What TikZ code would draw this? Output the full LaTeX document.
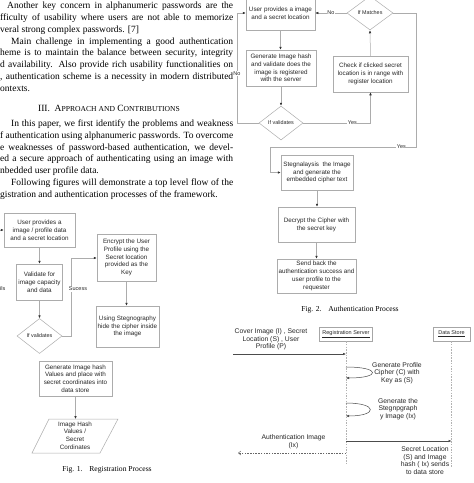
\documentclass[tikz,border=0pt]{standalone}
\usepackage{fontspec}
\setmainfont{Liberation Serif}
\newfontfamily\arialf{Liberation Sans}
\usetikzlibrary{arrows.meta,shapes.geometric}
\newcommand\smcap[1]{{\fontsize{7.6}{9}\selectfont #1}}
\begin{document}
\begin{tikzpicture}[x=1pt,y=-1pt,
  body/.style={anchor=base west,inner sep=0pt,font=\fontsize{9.5}{11.7}\selectfont},
  fbox/.style={draw=gray!65,line width=0.5pt,align=center,inner sep=0pt,font=\arialf\fontsize{6.3}{7.8}\selectfont,text=black!85},
  fdia/.style={diamond,aspect=1.3,draw=gray!65,line width=0.5pt,inner sep=0pt,font=\arialf\fontsize{5.4}{6.5}\selectfont,text=black!85},
  ftxt/.style={inner sep=0pt,font=\arialf\fontsize{6.3}{7.8}\selectfont,text=black!85,align=center},
  lbl/.style={fill=white,inner sep=0.6pt,font=\arialf\fontsize{5.5}{6.5}\selectfont,text=black!85},
  fl/.style={draw=gray!65,line width=0.5pt},
  arr/.style={fl,-{Latex[length=3pt,width=2.6pt,color=black!80]}},
  stxt/.style={inner sep=0pt,align=center,font=\arialf\fontsize{6.8}{7.7}\selectfont,text=black!85},
  sbox/.style={draw=gray!70,line width=0.5pt,inner sep=0pt,font=\arialf\fontsize{5.5}{6}\selectfont,text=black!85},
  life/.style={draw=gray!60,dash pattern=on 1.5pt off 1.2pt,line width=0.5pt},
  msg/.style={draw=black!70,line width=0.5pt,-{Latex[length=3pt,width=2.6pt]}},
  figcap/.style={anchor=base,inner sep=0pt,font=\fontsize{7.6}{9}\selectfont}
]
\useasboundingbox (0,0) rectangle (474,483);
\clip (0,0) rectangle (474,483);

% ---------- body text ----------
\node[body] (t0) at (7,8.7) {\makebox[226pt][s]{Another key concern in alphanumeric passwords are the}};
\node[body] (t1) at (0,20.5) {\makebox[233pt][s]{fficulty of usability where users are not able to memorize}};
\node[body] (t2) at (0,32.3) {veral strong complex passwords. [7]};
\node[body] (t3) at (11,44.1) {\makebox[222pt][s]{Main challenge in implementing a good authentication}};
\node[body] (t4) at (0,55.9) {\makebox[233pt][s]{heme is to maintain the balance between security, integrity}};
\node[body] (t5) at (0,67.7) {\makebox[233pt][s]{d availability. Also provide rich usability functionalities on}};
\node[body] (t6) at (0,79.5) {\makebox[233pt][s]{, authentication scheme is a necessity in modern distributed}};
\node[body] (t7) at (0,91.3) {ontexts.};
\node[anchor=base,inner sep=0pt,font=\fontsize{9.5}{11.7}\selectfont] (hd) at (109,111.5) {III.\hspace{0.5em}A\smcap{PPROACH AND} C\smcap{ONTRIBUTIONS}};
\node[body] (t8) at (11,126.5) {\makebox[222pt][s]{In this paper, we first identify the problems and weakness}};
\node[body] (t9) at (0,138.3) {\makebox[233pt][s]{f authentication using alphanumeric passwords. To overcome}};
\node[body] (t10) at (0,150.1) {\makebox[233pt][s]{e weaknesses of password-based authentication, we devel-}};
\node[body] (t11) at (0,161.9) {\makebox[233pt][s]{ed a secure approach of authenticating using an image with}};
\node[body] (t12) at (0,173.7) {nbedded user profile data.};
\node[body] (t13) at (11,185.5) {\makebox[222pt][s]{Following figures will demonstrate a top level flow of the}};
\node[body] (t14) at (0,197.3) {gistration and authentication processes of the framework.};

% ---------- Fig. 1 ----------
\node[fbox,minimum width=71pt,minimum height=34pt] (U1) at (39.5,230) {User provides a\\image / profile data\\and a secret location};
\node[fbox,minimum width=46pt,minimum height=36pt] (V) at (39.5,282) {Validate for\\image capacity\\and data};
\node[fdia,minimum width=45pt,minimum height=35pt] (D1) at (39.5,336) {If validates};
\node[fbox,minimum width=59pt,minimum height=47pt] (E) at (126.5,257.5) {Encrypt the User\\Profile using the\\Secret location\\provided as the\\Key};
\node[fbox,minimum width=63pt,minimum height=41pt] (S) at (127.5,326.5) {Using Stegnography\\hide the cipher inside\\the image};
\node[fbox,minimum width=73pt,minimum height=35pt] (G) at (75.5,378.5) {Generate Image hash\\Values and place with\\secret coordinates into\\data store};
\coordinate (pa) at (49,419);
\coordinate (pb) at (118,419);
\coordinate (pc) at (100,453);
\coordinate (pd) at (32,453);
\coordinate (Ptop) at (75.5,419);
\draw[fl] (pa) -- (pb) -- (pc) -- (pd) -- cycle;
\node[ftxt] (P) at (75,435.5) {Image Hash\\Values /\\Secret\\Cordinates};
\coordinate (fin) at (-6,230);
\node[lbl,anchor=west,inner sep=0pt] (fails) at (0,289) {ils};

\draw[arr] (fin) -- (U1.west);
\draw[arr] (U1.south) -- (V.north);
\draw[arr] (V.south) -- (D1.north);
\coordinate (sc1) at (71,336);
\coordinate (sc2) at (71,258);
\draw[arr] (D1.east) -- (sc1) -- (sc2) -- (sc2 -| E.west);
\node[lbl] (suc) at (78,289) {Sucess};
\draw[arr] (E.south) -- (E.south |- S.north);
\draw[arr] (G.south) -- (Ptop);
\node[figcap] (c1) at (107,471) {Fig. 1.\hspace{0.9em}Registration Process};

% ---------- Fig. 2 ----------
\node[fbox,minimum width=69pt,minimum height=34pt] (UA) at (280.5,13) {User provides a image\\and a secret location};
\node[fbox,minimum width=70pt,minimum height=36pt] (GA) at (281,68) {Generate Image hash\\and validate does the\\image is registered\\with the server};
\node[fdia,minimum width=44pt,minimum height=34pt] (D2) at (281,123) {If validates};
\node[fbox,minimum width=75pt,minimum height=36pt] (CK) at (370.5,74) {Check if clicked secret\\location is in range with\\register location};
\node[fdia,minimum width=46pt,minimum height=34pt] (DM) at (370,13) {If Matches};
\node[fbox,minimum width=72pt,minimum height=35pt] (SA) at (317,172.5) {Stegnalaysis\ \ the Image\\and generate the\\embedded cipher text};
\node[fbox,minimum width=77pt,minimum height=35pt] (DC) at (316.5,224.5) {Decrypt the Cipher with\\the secret key};
\node[fbox,minimum width=79pt,minimum height=34pt] (SB) at (316.5,276) {Send back the\\authentication success and\\user profile to the\\requester};

\draw[arr] (UA.south) -- (UA.south |- GA.north);
\draw[arr] (GA.south) -- (GA.south |- D2.north);
\coordinate (n1) at (237,123);
\coordinate (n2) at (237,13);
\draw[arr] (D2.west) -- (n1) -- node[lbl,pos=0.45] (no1) {No} (n2) -- (UA.west);
\coordinate (y1) at (370.5,123);
\draw[arr] (D2.east) -- node[lbl,pos=0.73] (yes1) {Yes} (y1) -- (CK.south);
\draw[arr] (CK.north) -- (DM.south);
\draw[arr] (DM.west) -- node[lbl,pos=0.5] (no2) {No} (UA.east);
\coordinate (m1) at (416,13);
\coordinate (m2) at (416,147);
\coordinate (m3) at (270,147);
\coordinate (m4) at (270,172.5);
\draw[arr] (DM.east) -- (m1) -- (m2) -- node[lbl,pos=0.1] (yes2) {Yes} (m3) -- (m4) -- (SA.west);
\draw[arr] (SA.south) -- (SA.south |- DC.north);
\draw[arr] (DC.south) -- (SB.north);
\node[figcap] (c2) at (350,311) {Fig. 2.\hspace{0.9em}Authentication Process};

% ---------- Fig. 3 (sequence) ----------
\node[sbox,minimum width=53pt,minimum height=14pt] (RS) at (346,334) {\underline{Registration Server}};
\node[sbox,minimum width=37pt,minimum height=14pt] (DS) at (451.5,334) {\underline{Data Store}};
\coordinate (rse) at (346,463);
\coordinate (dse) at (451.5,467);
\draw[life] (RS.south) -- (rse);
\draw[life] (DS.south) -- (dse);

\coordinate (a1s) at (233,354);
\coordinate (a1e) at (346,354);
\draw[msg] (a1s) -- (a1e);
\node[stxt] (l1) at (271,339.5) {Cover Image (I) , Secret\\Location (S) , User\\Profile (P)};

\coordinate (s1a) at (346,367);
\coordinate (s1b) at (346,378);
\draw[msg] (s1a) .. controls (381,367) and (381,378) .. (s1b);
\node[stxt] (l2) at (397,373) {Generate Profile\\Cipher (C) with\\Key as (S)};

\coordinate (s2a) at (346,403);
\coordinate (s2b) at (346,416);
\draw[msg] (s2a) .. controls (378,403) and (378,416) .. (s2b);
\node[stxt] (l3) at (398,409) {Generate the\\Stegnpgraph\\y Image (Ix)};

\coordinate (a2s) at (346,441);
\coordinate (a2e) at (451.5,441);
\draw[msg] (a2s) -- (a2e);
\node[stxt] (l4) at (425,460.5) {Secret Location\\(S) and Image\\hash ( Ix) sends\\to data store};

\coordinate (r1s) at (346,453);
\coordinate (r1e) at (238,453);
\draw[draw=black!60,line width=0.5pt,dash pattern=on 1.5pt off 1.2pt,-{Straight Barb[length=2.5pt,width=4pt]}] (r1s) -- (r1e);
\node[stxt] (l5) at (293.5,442) {Authentication Image\\(Ix)};
\end{tikzpicture}
\end{document}
